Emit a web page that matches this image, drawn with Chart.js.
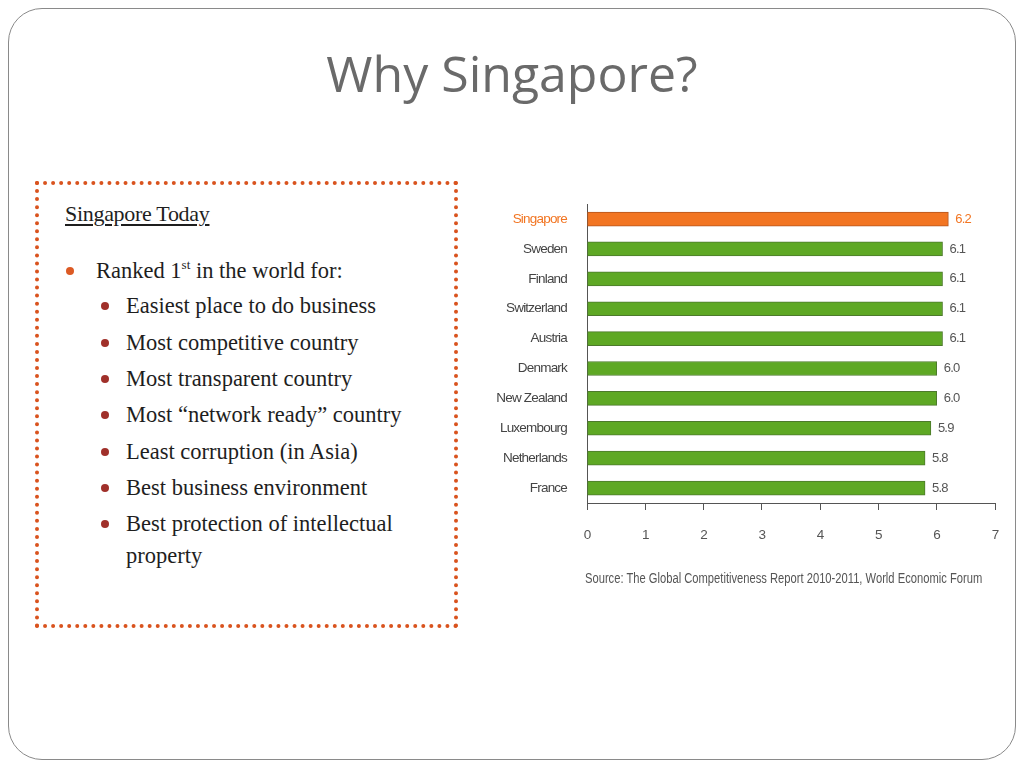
<!DOCTYPE html>
<html>
<head>
<meta charset="utf-8">
<script src="https://cdn.jsdelivr.net/npm/chart.js@4.4.0/dist/chart.umd.min.js"></script>
<style>
  html, body { margin: 0; padding: 0; background: #fff; }
  body { width: 1024px; height: 768px; position: relative; overflow: hidden; }
  .slide {
    position: absolute; left: 8px; top: 8px; width: 1008px; height: 752px;
    border: 1.5px solid #8a8a8a; border-radius: 34px; box-sizing: border-box;
  }
  h1 {
    position: absolute; left: 0; width: 1024px; top: 43px; margin: 0;
    text-align: center; font-family: "Open Sans", sans-serif; line-height: 60px;
    font-weight: normal; font-size: 50px; color: #6a6a6a;
  }
  .box {
    position: absolute; left: 35px; top: 181px; width: 423px; height: 447px;
    border: 4px dotted #d9531e; box-sizing: border-box;
    font-family: "Liberation Serif", serif; color: #1e1e1e;
  }
  .box .head {
    position: absolute; left: 26px; top: 16px; font-size: 22px; letter-spacing: -0.3px;
    text-decoration: underline; text-underline-offset: 3px; white-space: nowrap;
  }
  .box ul { list-style: none; margin: 0; padding: 0; }
  .box li { position: absolute; font-size: 22.5px; line-height: 32px; white-space: nowrap; }
  .box li::before {
    content: ""; position: absolute; width: 8px; height: 8px; border-radius: 50%; top: 12px;
  }
  .box li.l1::before { background: #dc5a24; left: -30px; }
  .box li.l2::before { background: #a0302a; left: -25px; }
  .box sup { font-size: 13px; vertical-align: baseline; position: relative; top: -9px; line-height: 0; }
  #chart { position: absolute; left: 495px; top: 184px; }
  .source {
    position: absolute; left: 585px; top: 570px; white-space: nowrap; transform-origin: 0 0;
    font-family: "Liberation Sans", sans-serif; font-size: 14px; color: #555;
  }
</style>
</head>
<body>
<div class="slide"></div>
<h1>Why Singapore?</h1>

<div class="box">
  <div class="head">Singapore Today</div>
  <ul id="bullets"></ul>
</div>

<canvas id="chart" width="525" height="391"></canvas>
<div class="source" id="source">Source: The Global Competitiveness Report 2010-2011, World Economic Forum</div>

<script>
const countries = ['Singapore', 'Sweden', 'Finland', 'Switzerland', 'Austria',
    'Denmark', 'New Zealand', 'Luxembourg', 'Netherlands', 'France'];
const scores = [6.2, 6.1, 6.1, 6.1, 6.1, 6.0, 6.0, 5.9, 5.8, 5.8];
const xTicks = [0, 1, 2, 3, 4, 5, 6, 7];

const bulletItems = [
    ['l1', 'Ranked 1<sup>st</sup> in the world for:'],
    ['l2', 'Easiest place to do business'],
    ['l2', 'Most competitive country'],
    ['l2', 'Most transparent country'],
    ['l2', 'Most \u201cnetwork ready\u201d country'],
    ['l2', 'Least corruption (in Asia)'],
    ['l2', 'Best business environment'],
    ['l2', 'Best protection of intellectual<br>property']
];
const bulletTops = [70, 105, 142, 178, 214, 251, 287, 323];

// bullet list
const bulletList = document.getElementById('bullets');
bulletItems.forEach(([level, html], i) => {
    const li = document.createElement('li');
    li.className = level;
    li.innerHTML = html;
    li.style.left = (level === 'l1' ? 57 : 87) + 'px';
    li.style.top = bulletTops[i] + 'px';
    bulletList.appendChild(li);
});

// squeeze the source line to the width of the chart (narrow font look)
const source = document.getElementById('source');
source.style.transform = `scaleX(${397 / source.offsetWidth})`;

const ORANGE = '#f27522';
const GREEN = '#5ea824';
const labelFont = '"Liberation Sans", Arial, sans-serif';

// tighter letters, the original uses a condensed face
const narrowText = {
    id: 'narrowText',
    beforeDraw(chart) { chart.ctx.letterSpacing = '-0.8px'; }
};

// values at the end of each bar
const valueLabels = {
    id: 'valueLabels',
    afterDatasetsDraw(chart) {
        const ctx = chart.ctx;
        const meta = chart.getDatasetMeta(0);
        ctx.save();
        ctx.font = '13px ' + labelFont;
        ctx.textBaseline = 'middle';
        meta.data.forEach((bar, i) => {
            ctx.fillStyle = i === 0 ? ORANGE : '#555';
            ctx.fillText(scores[i].toFixed(1), bar.x + 7, bar.y);
        });
        ctx.restore();
    }
};

new Chart(document.getElementById('chart'), {
    type: 'bar',
    data: {
        labels: countries,
        datasets: [{
            data: scores,
            backgroundColor: countries.map((c, i) => i === 0 ? ORANGE : GREEN),
            borderColor: countries.map((c, i) => i === 0 ? '#b5561e' : '#4d7a2c'),
            borderWidth: 1,
            borderSkipped: false,
            barThickness: 14
        }]
    },
    options: {
        indexAxis: 'y',
        responsive: false,
        devicePixelRatio: 1,
        animation: false,
        layout: { padding: { top: 7, right: 25, bottom: 0, left: 0 } },
        plugins: { legend: { display: false }, tooltip: { enabled: false } },
        scales: {
            x: {
                min: 0, max: 7,
                afterFit: s => { s.height = 72; },
                afterBuildTicks: s => { s.ticks = xTicks.map(v => ({ value: v })); },
                grid: { drawOnChartArea: false, drawTicks: true, tickLength: 7, color: '#555' },
                border: { color: '#555', width: 1 },
                ticks: { padding: 17, color: '#555', font: { family: labelFont, size: 13.5 } }
            },
            y: {
                afterFit: s => { s.width = 92; },
                grid: { display: false },
                border: { color: '#555', width: 1 },
                ticks: {
                    padding: 12,
                    color: ctx => ctx.index === 0 ? ORANGE : '#444',
                    font: { family: labelFont, size: 13.5 }
                }
            }
        }
    },
    plugins: [narrowText, valueLabels]
});
</script>
</body>
</html>
